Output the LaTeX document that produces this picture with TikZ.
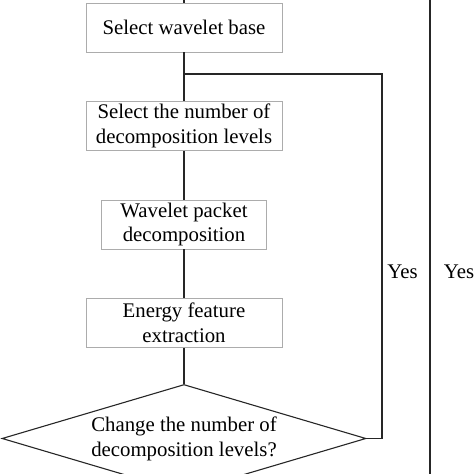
\documentclass[tikz,border=0pt]{standalone}
\usepackage{fontspec}
\setmainfont{Liberation Serif}
\usetikzlibrary{positioning,shapes.geometric}
\tikzset{
flow/.style={
    x=1pt,
    y=1pt,
    node distance=98.5pt,
    font=\fontsize{20.8}{25}\selectfont
},
stepbox/.style={
    rectangle,
    draw=gray!65,
    line width=0.8pt,
    minimum width=196pt,
    minimum height=49pt,
    align=center,
    inner sep=0pt
},
decide/.style={
    diamond,
    aspect=3.37,
    draw=black!85,
    line width=1.1pt,
    minimum width=364pt,
    minimum height=108pt,
    inner sep=0pt,
    align=center
},
link/.style={
    draw=black!85,
    line width=1.1pt
}}

\begin{document}
\begin{tikzpicture}[flow]
\useasboundingbox (0,0) rectangle (474,474);
\clip (0,0) rectangle (474,474);

\node[stepbox]    (base)     at (184,446.5)    {Select wavelet base};
\node[stepbox]    (levels)   [below of=base]   {Select the number of\\decomposition levels};
\node[stepbox, minimum width=165pt]    (packet)   [below of=levels]   {Wavelet packet\\decomposition};
\node[stepbox]    (energy)   [below of=packet]   {Energy feature\\extraction};
\node[decide]     (change)   [below of=energy, node distance=115.5pt]   {Change the number of\\decomposition levels?};

\node    (yes1)    at (402.5,202)    {Yes};
\node    (yes2)    at (459,202)      {Yes};

\coordinate    (top)    at (184,474);
\coordinate    (j1)     at (184,400);
\coordinate    (r1)     at (382,400);
\coordinate    (t2)     at (430,474);
\coordinate    (b2)     at (430,0);

\path[link]    (top)      --    (base.north);
\path[link]    (base)     --    (levels);
\path[link]    (levels)   --    (packet);
\path[link]    (packet)   --    (energy);
\path[link]    (energy)   --    (change);
\path[link]    (change.east)    -|    (r1)    --    (j1);
\path[link]    (t2)       --    (b2);
\end{tikzpicture}
\end{document}
